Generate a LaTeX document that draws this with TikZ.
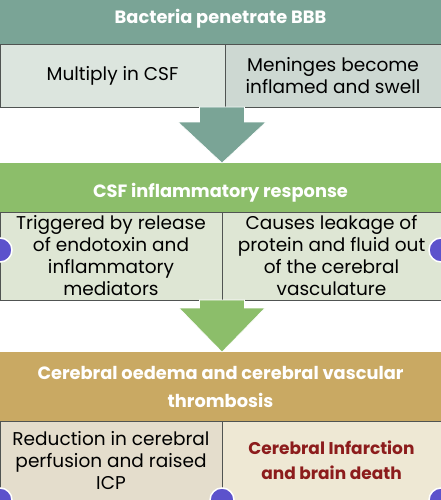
\documentclass[tikz,border=0pt]{standalone}
\usepackage{fontspec}
\setmainfont{Poppins}

\definecolor{barteal}{RGB}{122,164,150}
\definecolor{bargreen}{RGB}{140,190,106}
\definecolor{bargold}{RGB}{201,169,99}
\definecolor{tealL}{RGB}{220,229,222}
\definecolor{tealR}{RGB}{205,216,210}
\definecolor{greenL}{RGB}{222,230,212}
\definecolor{greenR}{RGB}{222,230,212}
\definecolor{goldL}{RGB}{228,221,204}
\definecolor{goldR}{RGB}{238,232,212}
\definecolor{cellline}{RGB}{80,84,82}
\definecolor{deathred}{RGB}{140,28,28}
\definecolor{dotblue}{RGB}{92,82,204}

\tikzset{
  bar/.style={rectangle, minimum width=441pt, inner sep=0pt, text=white,
    align=center, font=\bfseries\fontsize{17.8}{28}\selectfont},
  cell/.style={rectangle, draw=cellline, line width=0.8pt, inner sep=0pt,
    align=center, font=\fontsize{18.5}{22}\selectfont},
  bigarrow/.style={draw=white, line width=0.6pt, line join=miter},
  dot/.style={circle, fill=dotblue, draw=white, line width=1.5pt,
    minimum size=24pt, inner sep=0pt}
}

\begin{document}
\begin{tikzpicture}[x=1pt,y=-1pt]
\useasboundingbox (0,0) rectangle (441,500);

% stage 1
\node[bar, fill=barteal, minimum height=44pt, text height=12.8pt, text depth=10.5pt] (bbb) at (220.5,22) {Bacteria penetrate BBB};
\node[cell, fill=tealL, minimum width=225pt, minimum height=63pt] (mult) at (112.5,75.5) {Multiply in CSF};
\node[cell, fill=tealR, minimum width=216pt, minimum height=63pt] (men) at (333,75.5) {Meninges become\\inflamed and swell};

% stage 2
\node[bar, fill=bargreen, minimum height=49pt, text height=24.8pt, text depth=4.5pt] (resp) at (220.5,187.5) {CSF inflammatory response};
\node[cell, fill=greenL, minimum width=222pt, minimum height=88pt] (trig) at (111,256) {Triggered by release\\of endotoxin and\\inflammatory\\mediators};
\node[cell, fill=greenR, minimum width=219pt, minimum height=88pt] (leak) at (331.5,256) {Causes leakage of\\protein and fluid out\\of the cerebral\\vasculature};

% stage 3
\node[bar, fill=bargold, minimum height=69pt] (oed) at (220.5,386.5) {Cerebral oedema and cerebral vascular\\thrombosis};
\node[cell, fill=goldL, minimum width=222pt, minimum height=79pt] (icp) at (111,460.5) {Reduction in cerebral\\perfusion and raised\\ICP};
\node[cell, fill=goldR, minimum width=219pt, minimum height=79pt, text=deathred,
  font=\bfseries\fontsize{17}{25}\selectfont] (death) at (331.5,460.5) {Cerebral Infarction\\and brain death};

% block arrows between stages
\coordinate (tip1) at (222,163);
\coordinate (tip2) at (222,352);
\path[bigarrow, fill=barteal] (tip1) -- ++(-44,-41) -- ++(21.5,0) -- ++(0,-15) -- ++(45,0)
  -- ++(0,15) -- ++(21.5,0) -- cycle;
\path[bigarrow, fill=bargreen] (tip2) -- ++(-43,-44) -- ++(20.5,0) -- ++(0,-8) -- ++(45,0)
  -- ++(0,8) -- ++(20.5,0) -- cycle;

% dots on the frame
\node[dot] (d1) at (0,250) {};
\node[dot] (d2) at (441,250) {};
\node[dot] (d3) at (0,500) {};
\node[dot] (d4) at (222,500) {};
\node[dot] (d5) at (441,500) {};
\end{tikzpicture}
\end{document}
